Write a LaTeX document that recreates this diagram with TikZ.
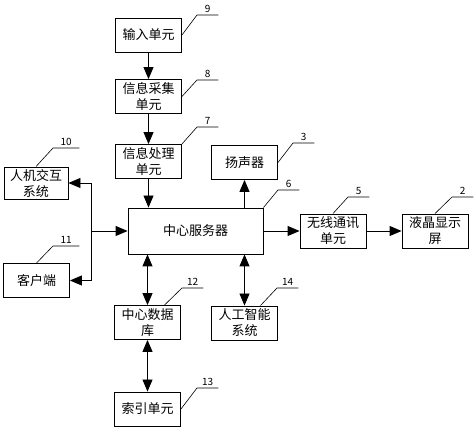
\documentclass[tikz,border=0pt]{standalone}
\usepackage{fontspec}
\setmainfont{Noto Sans CJK SC}
\usetikzlibrary{arrows.meta,positioning}

\begin{document}
\begin{tikzpicture}[x=1pt,y=-1pt,
  box/.style={draw,line width=0.9pt,minimum width=66pt,minimum height=34pt,inner sep=1pt,align=center,font=\fontsize{13}{16}\selectfont},
  arr/.style={line width=0.9pt,-{Triangle[length=12pt,width=10pt]}},
  darr/.style={line width=0.9pt,{Triangle[length=12pt,width=10pt]}-{Triangle[length=12pt,width=10pt]}},
  lead/.style={line width=0.6pt},
  num/.style={anchor=south west,inner xsep=0pt,inner ysep=2.5pt,minimum width=21pt,font=\fontsize{10}{11}\selectfont}]
\useasboundingbox (0,0) rectangle (474,427);
% boxes
\node[box] (b9) at (148.5,35) {输入单元};
\node[box] (b8) at (148.5,96.5) {信息采集\\单元};
\node[box] (b7) at (148.5,161.5) {信息处理\\单元};
\node[box,minimum width=135pt,minimum height=46pt] (srv) at (195.5,231) {中心服务器};
\node[box,minimum width=64pt,minimum height=32pt] (b10) at (36,183) {人机交互\\系统};
\node[box] (b11) at (36.5,280.5) {客户端};
\node[box] (b3) at (244.5,162.5) {扬声器};
\node[box] (b5) at (333,231) {无线通讯\\单元};
\node[box] (b2) at (435,231) {液晶显示\\屏};
\node[box] (b12) at (147.5,322.5) {中心数据\\库};
\node[box] (b13) at (147.5,409) {索引单元};
\node[box] (b14) at (244.5,323) {人工智能\\系统};
% numbers
\node[num] (n9) at (197,15) {9};
\node[num] (n8) at (197,80) {8};
\node[num] (n7) at (197,127) {7};
\node[num,minimum width=26pt] (n10) at (53,148) {10};
\node[num,minimum width=26pt] (n11) at (53,246) {11};
\node[num] (n6) at (278,190) {6};
\node[num] (n3) at (293,143) {3};
\node[num] (n5) at (348,197) {5};
\node[num] (n2) at (452,197) {2};
\node[num] (n12) at (182,288) {12};
\node[num] (n14) at (277,288) {14};
\node[num] (n13) at (197,388) {13};
% leaders
\draw[lead] (b9.east) -- (n9.south west) -- (n9.south east);
\draw[lead] (b8.east) -- (n8.south west) -- (n8.south east);
\draw[lead] (b7.north east) -- (n7.south west) -- (n7.south east);
\draw[lead] (b10.north) -- (n10.south west) -- (n10.south east);
\draw[lead] (b11.north) -- (n11.south west) -- (n11.south east);
\draw[lead] (srv.north east) -- (n6.south west) -- (n6.south east);
\draw[lead] (b3.east) -- (n3.south west) -- (n3.south east);
\draw[lead] (b5.north) -- (n5.south west) -- (n5.south east);
\draw[lead] (b2.north) -- (n2.south west) -- (n2.south east);
\draw[lead] ([xshift=17pt]b12.north) -- (n12.south west) -- (n12.south east);
\draw[lead] ([xshift=16pt]b14.north) -- (n14.south west) -- (n14.south east);
\draw[lead] (b13.east) -- (n13.south west) -- (n13.south east);
% connectors
\coordinate (jn) at (91,231);
\draw[arr] (b9) -- (b8);
\draw[arr] (b8) -- (b7);
\draw[arr] (b7.south) -- (b7.south |- srv.north);
\draw[arr] (b3.south |- srv.north) -- (b3.south);
\draw[arr] (srv.east) -- (b5.west);
\draw[arr] (b5) -- (b2);
\draw[arr] (jn) -- (srv.west);
\draw[arr] (jn) |- (b10.east);
\draw[arr] (jn) |- (b11.east);
\draw[darr] (b12.north |- srv.south) -- (b12.north);
\draw[darr] (b14.north |- srv.south) -- (b14.north);
\draw[darr] (b12) -- (b13);
\end{tikzpicture}
\end{document}
